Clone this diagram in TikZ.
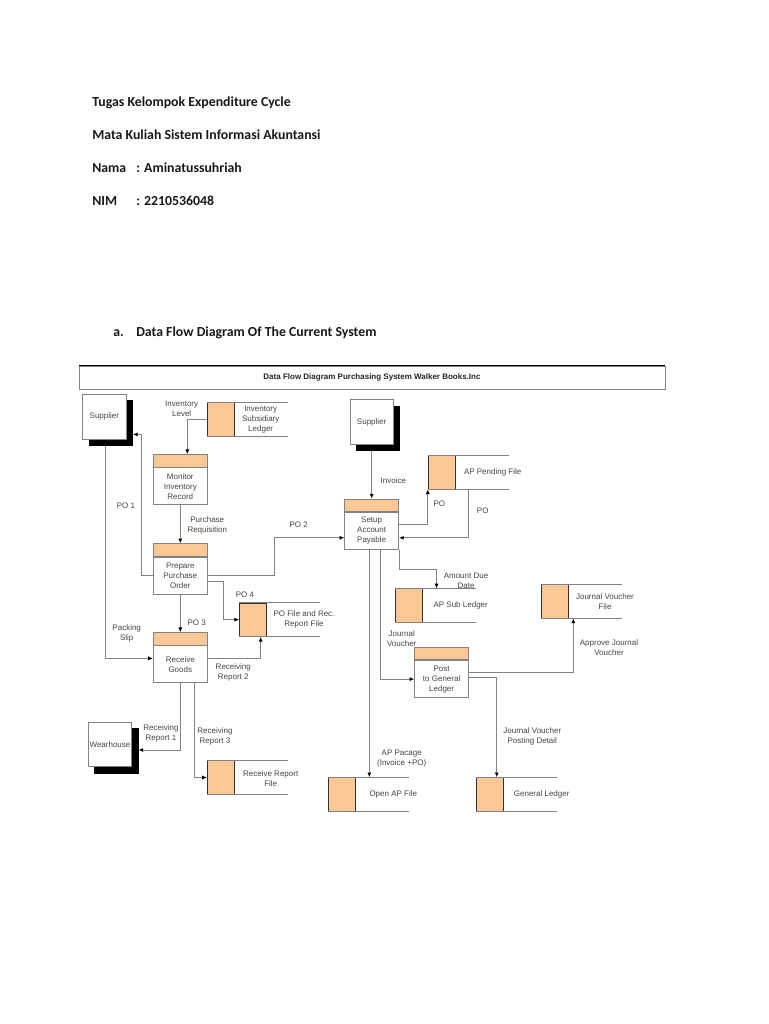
\documentclass[tikz,border=0pt]{standalone}
\usepackage{fontspec}
\setmainfont{Liberation Sans}
\newfontfamily\hdrfont{Carlito}
\usetikzlibrary{positioning,calc,arrows.meta,backgrounds}

\definecolor{peach}{RGB}{250,200,150}
\definecolor{lg}{RGB}{130,130,130}
\definecolor{dk}{RGB}{50,50,50}
\definecolor{txt}{RGB}{70,70,70}

\tikzset{
  lbl/.style={font=\fontsize{6}{7.5}\selectfont, text=txt, align=center, inner sep=0pt},
  hd/.style={font=\hdrfont\bfseries\fontsize{10.35}{12}\selectfont, text=black!90, anchor=base west, inner sep=0pt},
  entity/.style={lbl, draw=lg, fill=white, line width=0.6pt, minimum width=32.5pt, minimum height=33.5pt},
  proc/.style={lbl, draw=lg, fill=white, line width=0.6pt, minimum width=40.5pt, minimum height=27.75pt},
  prochead/.style={draw=lg, fill=peach, line width=0.6pt, inner sep=0pt, minimum width=40.5pt, minimum height=9.4pt, above=0pt of #1},
  store/.style={draw=dk, fill=peach, line width=0.6pt, inner sep=0pt, minimum width=20.25pt, minimum height=25.1pt},
  line/.style={draw=lg, line width=0.6pt},
  flow/.style={line, -{Latex[length=3.5pt,width=3pt,color=black]}}
}

\begin{document}
\begin{tikzpicture}[x=0.75pt,y=0.75pt,yscale=-1,xscale=1]

\useasboundingbox (0,0) rectangle (768,1024);

\node[hd] (t1) at (92,107) {Tugas Kelompok Expenditure Cycle};
\node[hd] (t2) at (92,139) {Mata Kuliah Sistem Informasi Akuntansi};
\node[hd] (t3a) at (92,172.3) {Nama};
\node[hd] (t3b) at (136,172.3) {: Aminatussuhriah};
\node[hd] (t4a) at (92,205) {NIM};
\node[hd] (t4b) at (136,205) {: 2210536048};
\node[hd] (t5a) at (113,336.5) {a.};
\node[hd] (t5b) at (136,336.5) {Data Flow Diagram Of The Current System};

\node[draw=lg, line width=0.6pt, minimum width=439.5pt, minimum height=17.25pt, inner sep=0pt, font=\bfseries\fontsize{6}{7}\selectfont, text=black!85] (ttl) at (372,377.5) {Data Flow Diagram Purchasing System Walker Books.Inc};
\draw[line width=0.6pt] (ttl.north west) -- (ttl.north east);

% entities
\node[entity] (sup1) at (104.35,416.65) {Supplier};
\node[entity] (sup2) at (371.65,422) {Supplier};
\node[entity] (wh) at (110,744.5) {Wearhouse};

% processes
\node[proc] (mon) at (180.3,486.35) {Monitor\\Inventory\\Record};
\node[prochead=mon] (monH) {};
\node[proc] (prep) at (180.3,575.5) {Prepare\\Purchase\\Order};
\node[prochead=prep] (prepH) {};
\node[proc] (recv) at (180.3,664.35) {Receive\\Goods};
\node[prochead=recv] (recvH) {};
\node[proc] (setup) at (371.65,530.8) {Setup\\Account\\Payable};
\node[prochead=setup] (setupH) {};
\node[proc] (post) at (441.65,679.15) {Post\\to General\\Ledger};
\node[prochead=post] (postH) {};

% data stores
\node[store] (sInv) at (220.8,419.35) {};
\node[store] (sPOF) at (253,619.7) {};
\node[store] (sRR) at (220.8,777.5) {};
\node[store] (sAPP) at (441.65,472.2) {};
\node[store] (sAPS) at (409.35,605.5) {};
\node[store] (sJV) at (555,601.35) {};
\node[store] (sOAP) at (342,794.35) {};
\node[store] (sGL) at (490.3,794.35) {};

\foreach \s in {sInv,sPOF,sRR,sAPP,sAPS,sJV,sOAP,sGL}
  \draw[line] (\s.north west) -- ++(81,0) (\s.south west) -- ++(81,0);

\node[lbl] (tInv) at (260.7,420) {Inventory\\Subsidiary\\Ledger};
\node[lbl] (tPOF) at (304,619.5) {PO File and Rec.\\Report File};
\node[lbl] (tRR) at (270.7,778.3) {Receive Report\\File};
\node[lbl] (tAPP) at (492.7,472.3) {AP Pending File};
\node[lbl] (tAPS) at (460.7,605.7) {AP Sub Ledger};
\node[lbl] (tJV) at (605,602) {Journal Voucher\\File};
\node[lbl] (tOAP) at (393.3,794.3) {Open AP File};
\node[lbl] (tGL) at (541.7,794.3) {General Ledger};

% flows
\draw[flow] (sInv.west) -| ($(monH.north)+(7,0)$);
\draw[flow] (mon.south) -- (prepH.north);
\draw[flow] (prep.west) -| ($(sup1.south east)+(15,-5)$) -- ($(sup1.south east)+(6.5,-5)$);
\draw[flow] ($(sup1.south)+(0.6,6.5)$) |- ($(recv.west)+(0,-6)$);
\draw[flow] (prep.east) -| ($(setup.west)+(-69.6,7)$) -- ($(setup.west)+(0,7)$);
\draw[flow] ($(prep.east)+(0,5.5)$) -| ($(sPOF.west)+(-16,0)$) -- (sPOF.west);
\draw[flow] (prep.south) -- (recvH.north);
\draw[flow] ($(recv.east)+(0,-6)$) -| ($(sPOF.south)+(7.7,0)$);
\draw[flow] (recv.south) |- ($(wh.east)+(6.5,5.5)$);
\draw[flow] ($(recv.south)+(14,0)$) |- (sRR.west);
\draw[flow] ($(sup2.south)+(0,6.5)$) -- (setupH.north);
\draw[flow] ($(setup.east)+(0,-6.5)$) -| (sAPP.south west);
\draw[flow] ($(sAPP.south east)+(13.3,0)$) |- ($(setup.east)+(0,7)$);
\draw[flow] (setup.south east) -- ++(0,20) -| ($(sAPS.north east)+(13.3,0)$);
\coordinate (apx) at ($(setup.south)+(-2.3,0)$);
\draw[flow] (apx) -- (apx |- sOAP.north);
\draw[flow] ($(setup.south)+(8.35,0)$) |- (post.west);
\draw[flow] ($(post.east)+(0,-6.8)$) -| ($(sJV.south)+(18.3,0)$);
\draw[flow] ($(post.east)+(0,-1.5)$) -| ($(sGL.north)+(6.4,0)$);

% flow labels
\node[lbl] (lLvl) at (181.7,408.3) {Inventory\\Level};
\node[lbl] (lReq) at (207.3,525.3) {Purchase\\Requisition};
\node[lbl] (lPO1) at (126,506) {PO 1};
\node[lbl] (lPO2) at (298.7,525) {PO 2};
\node[lbl] (lPO4) at (245,595) {PO 4};
\node[lbl] (lPO3) at (196.7,622.3) {PO 3};
\node[lbl] (lSlip) at (126.7,633.3) {Packing\\Slip};
\node[lbl] (lRR2) at (233.3,672.7) {Receiving\\Report 2};
\node[lbl] (lRR1) at (161,733.3) {Receiving\\Report 1};
\node[lbl] (lRR3) at (215,736.7) {Receiving\\Report 3};
\node[lbl] (lInv) at (393.3,480.7) {Invoice};
\node[lbl] (lPOa) at (439.3,503.3) {PO};
\node[lbl] (lPOb) at (482.7,511) {PO};
\node[lbl] (lDue) at (466,581) {Amount Due\\Date};
\node[lbl] (lPac) at (401.7,758.7) {AP Pacage\\(Invoice +PO)};
\node[lbl] (lJV) at (401.7,639) {Journal\\Voucher};
\node[lbl] (lApp) at (609,647.3) {Approve Journal\\Voucher};
\node[lbl] (lDet) at (532.3,736.3) {Journal Voucher\\Posting Detail};

\begin{scope}[on background layer]
  \fill[white] (0,0) rectangle (768,1024);
  \foreach \e in {sup1,sup2,wh}
    \fill[black] ($(\e.south west)+(6.5,6.5)$) rectangle ($(\e.north east)+(6.5,6.5)$);
\end{scope}

\end{tikzpicture}
\end{document}
